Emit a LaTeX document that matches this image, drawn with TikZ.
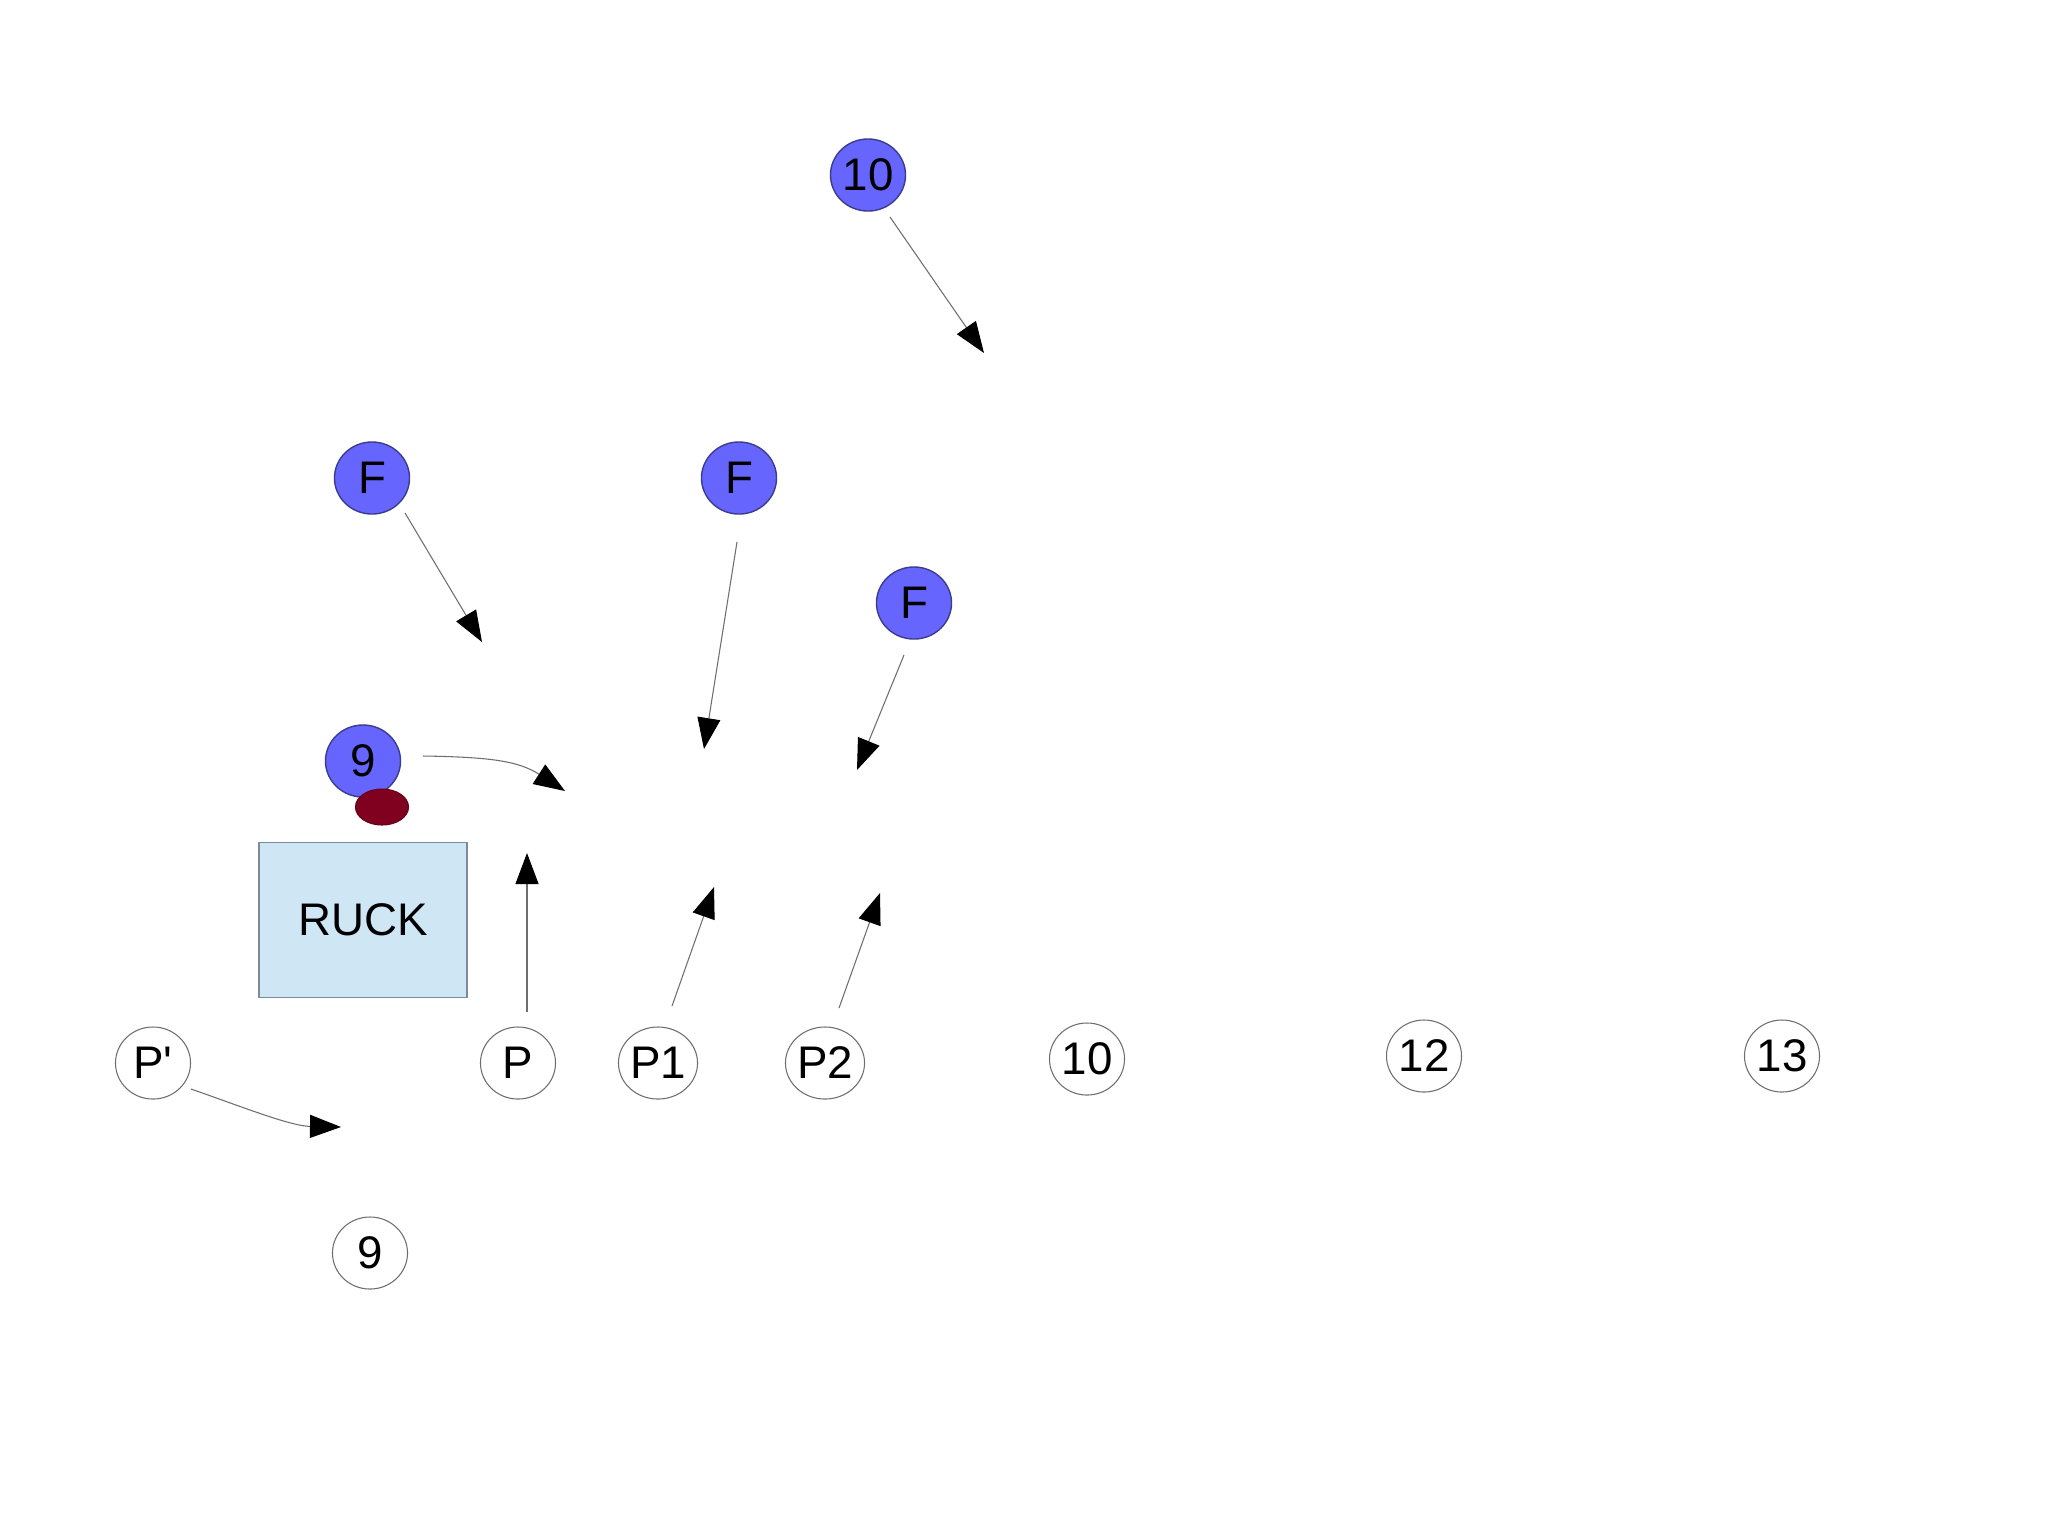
\documentclass[tikz,border=0pt]{standalone}
\usepackage{fontspec}
\newfontfamily\labelfont{Liberation Sans}
\usetikzlibrary{arrows.meta,shapes.geometric}
\definecolor{pblue}{RGB}{102,102,255}
\definecolor{pborder}{RGB}{60,60,140}
\definecolor{ruckfill}{RGB}{207,231,245}
\definecolor{ruckdraw}{RGB}{120,140,160}
\definecolor{ballred}{RGB}{128,0,32}
\definecolor{linegray}{RGB}{110,110,110}
\begin{document}
\begin{tikzpicture}[x=0.01cm,y=-0.01cm,
  bplayer/.style={ellipse,fill=pblue,draw=pborder,line width=0.4pt,minimum width=0.75cm,minimum height=0.72cm,inner sep=0pt,font=\labelfont\fontsize{13}{15}\selectfont},
  wplayer/.style={ellipse,fill=white,draw=linegray,line width=0.3pt,minimum width=0.75cm,minimum height=0.72cm,inner sep=0pt,font=\labelfont\fontsize{13}{15}\selectfont},
  run/.style={draw=linegray,line width=0.3pt,-{Triangle[black,length=0.31cm,width=0.23cm]}}]
\useasboundingbox[fill=white] (0,0) rectangle (2048,1535);
% ruck
\node[draw=ruckdraw,fill=ruckfill,line width=0.4pt,minimum width=2.08cm,minimum height=1.55cm,inner sep=0pt,font=\labelfont\fontsize{13}{15}\selectfont] (ruck) at (363,920) {RUCK};
% attackers (blue)
\node[bplayer] (b10) at (868,175) {10};
\node[bplayer] (f1) at (372,478) {F};
\node[bplayer] (f2) at (739,478) {F};
\node[bplayer] (f3) at (914,603) {F};
\node[bplayer] (b9) at (363,761) {9};
\node[ellipse,fill=ballred,draw=ballred!80!black,line width=0.3pt,minimum width=0.53cm,minimum height=0.36cm,inner sep=0pt] (ball) at (382,807) {};
% defenders (white)
\node[wplayer] (pp) at (153,1063) {P'};
\node[wplayer] (p) at (518,1063) {P};
\node[wplayer] (p1) at (658,1063) {P1};
\node[wplayer] (p2) at (825,1063) {P2};
\node[wplayer] (w10) at (1087,1059) {10};
\node[wplayer] (w12) at (1424,1056) {12};
\node[wplayer] (w13) at (1782,1056) {13};
\node[wplayer] (w9) at (370,1253) {9};
% arrow ends
\coordinate (b10s) at (890,217);  \coordinate (b10t) at (984,353);
\coordinate (f1s) at (405,513);   \coordinate (f1t) at (482,642);
\coordinate (f2s) at (737,542);   \coordinate (f2t) at (704,749);
\coordinate (f3s) at (904,655);   \coordinate (f3t) at (857,770);
\coordinate (b9s) at (423,756);   \coordinate (b9t) at (565,791);
\coordinate (ps) at (527,1012);   \coordinate (pt) at (527,853);
\coordinate (p1s) at (672,1006);  \coordinate (p1t) at (714,887);
\coordinate (p2s) at (839,1008);  \coordinate (p2t) at (880,893);
\coordinate (pps) at (191,1089);  \coordinate (ppt) at (341,1127);
% runs
\draw[run] (b10s) -- (b10t);
\draw[run] (f1s) -- (f1t);
\draw[run] (f2s) -- (f2t);
\draw[run] (f3s) -- (f3t);
\draw[run] (b9s) .. controls (495,757) and (520,762) .. (b9t);
\draw[run] (ps) -- (pt);
\draw[run] (p1s) -- (p1t);
\draw[run] (p2s) -- (p2t);
\draw[run] (pps) .. controls (240,1106) and (290,1126) .. (ppt);
\end{tikzpicture}
\end{document}
